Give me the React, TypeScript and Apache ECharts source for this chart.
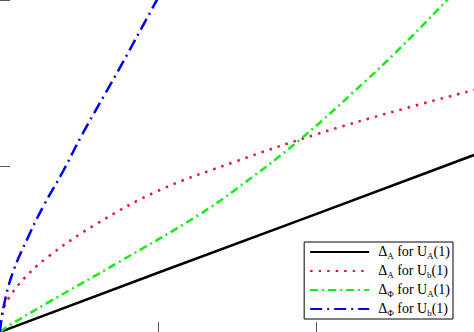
import React, { useEffect, useRef } from "react";
import * as echarts from "echarts";

const xTicks = [0, 1, 2, 3];
const yTicks = [0, 1, 2];

const blackX = [0, 1, 2, 3];
const blackY = [0, 0.357, 0.71, 1.066];

const redX = [0, 0.02, 0.06, 0.15, 0.3, 0.6, 1.0, 1.5, 2.0, 2.5, 3.0];
const redY = [0, 0.13, 0.21, 0.32, 0.45, 0.645, 0.85, 1.03, 1.19, 1.33, 1.458];

const greenX = [0, 0.06, 0.3, 0.75, 1.25, 1.5, 1.9, 2.3, 2.5, 2.8, 3.0];
const greenY = [0, 0.04, 0.175, 0.42, 0.7, 0.865, 1.16, 1.5, 1.68, 1.97, 2.17];

const blueX = [0, 0.02, 0.08, 0.19, 0.27, 0.4, 0.52, 0.74, 0.97, 1.05];
const blueY = [0, 0.14, 0.355, 0.596, 0.75, 0.97, 1.19, 1.56, 1.96, 2.1];

const names = ["dA_UA", "dA_Ub", "dP_UA", "dP_Ub"];
const labels: Record<string, string> = {
  dA_UA: "{g|}{m|Δ}{s|A}{m| for U}{s|A}{m|(1)}",
  dA_Ub: "{g|}{m|Δ}{s|A}{m| for U}{s|b}{m|(1)}",
  dP_UA: "{g|}{m|Δ}{s|Φ}{m| for U}{s|A}{m|(1)}",
  dP_Ub: "{g|}{m|Δ}{s|Φ}{m| for U}{s|b}{m|(1)}",
};

const zip = (xs: number[], ys: number[]) => xs.map((x, i) => [x, ys[i]]);

export default function App() {
  const ref = useRef<HTMLDivElement>(null);
  useEffect(() => {
    if (!ref.current) return;
    const chart = echarts.init(ref.current, null, { renderer: "svg" });
    const serif = "'Liberation Serif', 'Times New Roman', serif";
    const tick = { show: true, inside: true, length: 10, lineStyle: { color: "#555", width: 1 } };
    const xAxisBase = {
      type: "value" as const,
      min: xTicks[0],
      max: xTicks[xTicks.length - 1],
      interval: 1,
      axisLine: { show: false },
      axisTick: tick,
      axisLabel: { show: false },
      splitLine: { show: false },
    };
    const yAxisBase = {
      type: "value" as const,
      min: yTicks[0],
      max: yTicks[yTicks.length - 1],
      interval: 1,
      axisLine: { show: false },
      axisTick: tick,
      axisLabel: { show: false },
      splitLine: { show: false },
    };
    chart.setOption({
      animation: false,
      backgroundColor: "#fff",
      grid: { left: 0, right: 0, top: 0, bottom: 0 },
      xAxis: [
        { ...xAxisBase, position: "bottom" },
        { ...xAxisBase, position: "top", axisTick: { ...tick, length: 8 } },
      ],
      yAxis: [
        { ...yAxisBase, position: "left" },
        { ...yAxisBase, position: "right" },
      ],
      legend: {
        data: names,
        orient: "vertical",
        right: 21,
        bottom: 13,
        backgroundColor: "#fff",
        borderColor: "#000",
        borderWidth: 1,
        borderRadius: 0,
        padding: [1, 3, 2, 5],
        itemWidth: 59,
        itemHeight: 14,
        itemGap: 2,
        itemStyle: { opacity: 0 },
        formatter: (n: string) => labels[n],
        textStyle: {
          color: "#000",
          fontFamily: serif,
          fontSize: 14,
          rich: {
            g: { width: 4, lineHeight: 18, verticalAlign: "top" },
            m: { fontFamily: serif, fontSize: 14, color: "#000", lineHeight: 18, verticalAlign: "top", padding: [1, 0, 0, 0] },
            s: { fontFamily: serif, fontSize: 9, color: "#000", lineHeight: 18, verticalAlign: "top", padding: [8, 0, 0, 0] },
          },
        },
      },
      series: [
        {
          name: names[0],
          type: "line",
          data: zip(blackX, blackY),
          symbol: "none",
          lineStyle: { color: "#000", width: 2.5, type: "solid" },
          itemStyle: { color: "#000" },
        },
        {
          name: names[1],
          type: "line",
          data: zip(redX, redY),
          symbol: "none",
          smooth: 0.4,
          lineStyle: { color: "#ee1133", width: 2.5, type: [2.5, 6] },
          itemStyle: { color: "#ee1133" },
        },
        {
          name: names[2],
          type: "line",
          data: zip(greenX, greenY),
          symbol: "none",
          smooth: 0.4,
          lineStyle: { color: "#11ee11", width: 2.5, type: [8, 4, 2, 4] },
          itemStyle: { color: "#11ee11" },
        },
        {
          name: names[3],
          type: "line",
          data: zip(blueX, blueY),
          symbol: "none",
          smooth: 0.4,
          lineStyle: { color: "#0000ee", width: 2.5, type: [12, 5, 2, 5] },
          itemStyle: { color: "#0000ee" },
        },
      ],
    });
    return () => chart.dispose();
  }, []);
  return (
    <div
      ref={ref}
      style={{ position: "absolute", left: 0, top: 0, width: 474, height: 332 }}
    />
  );
}
